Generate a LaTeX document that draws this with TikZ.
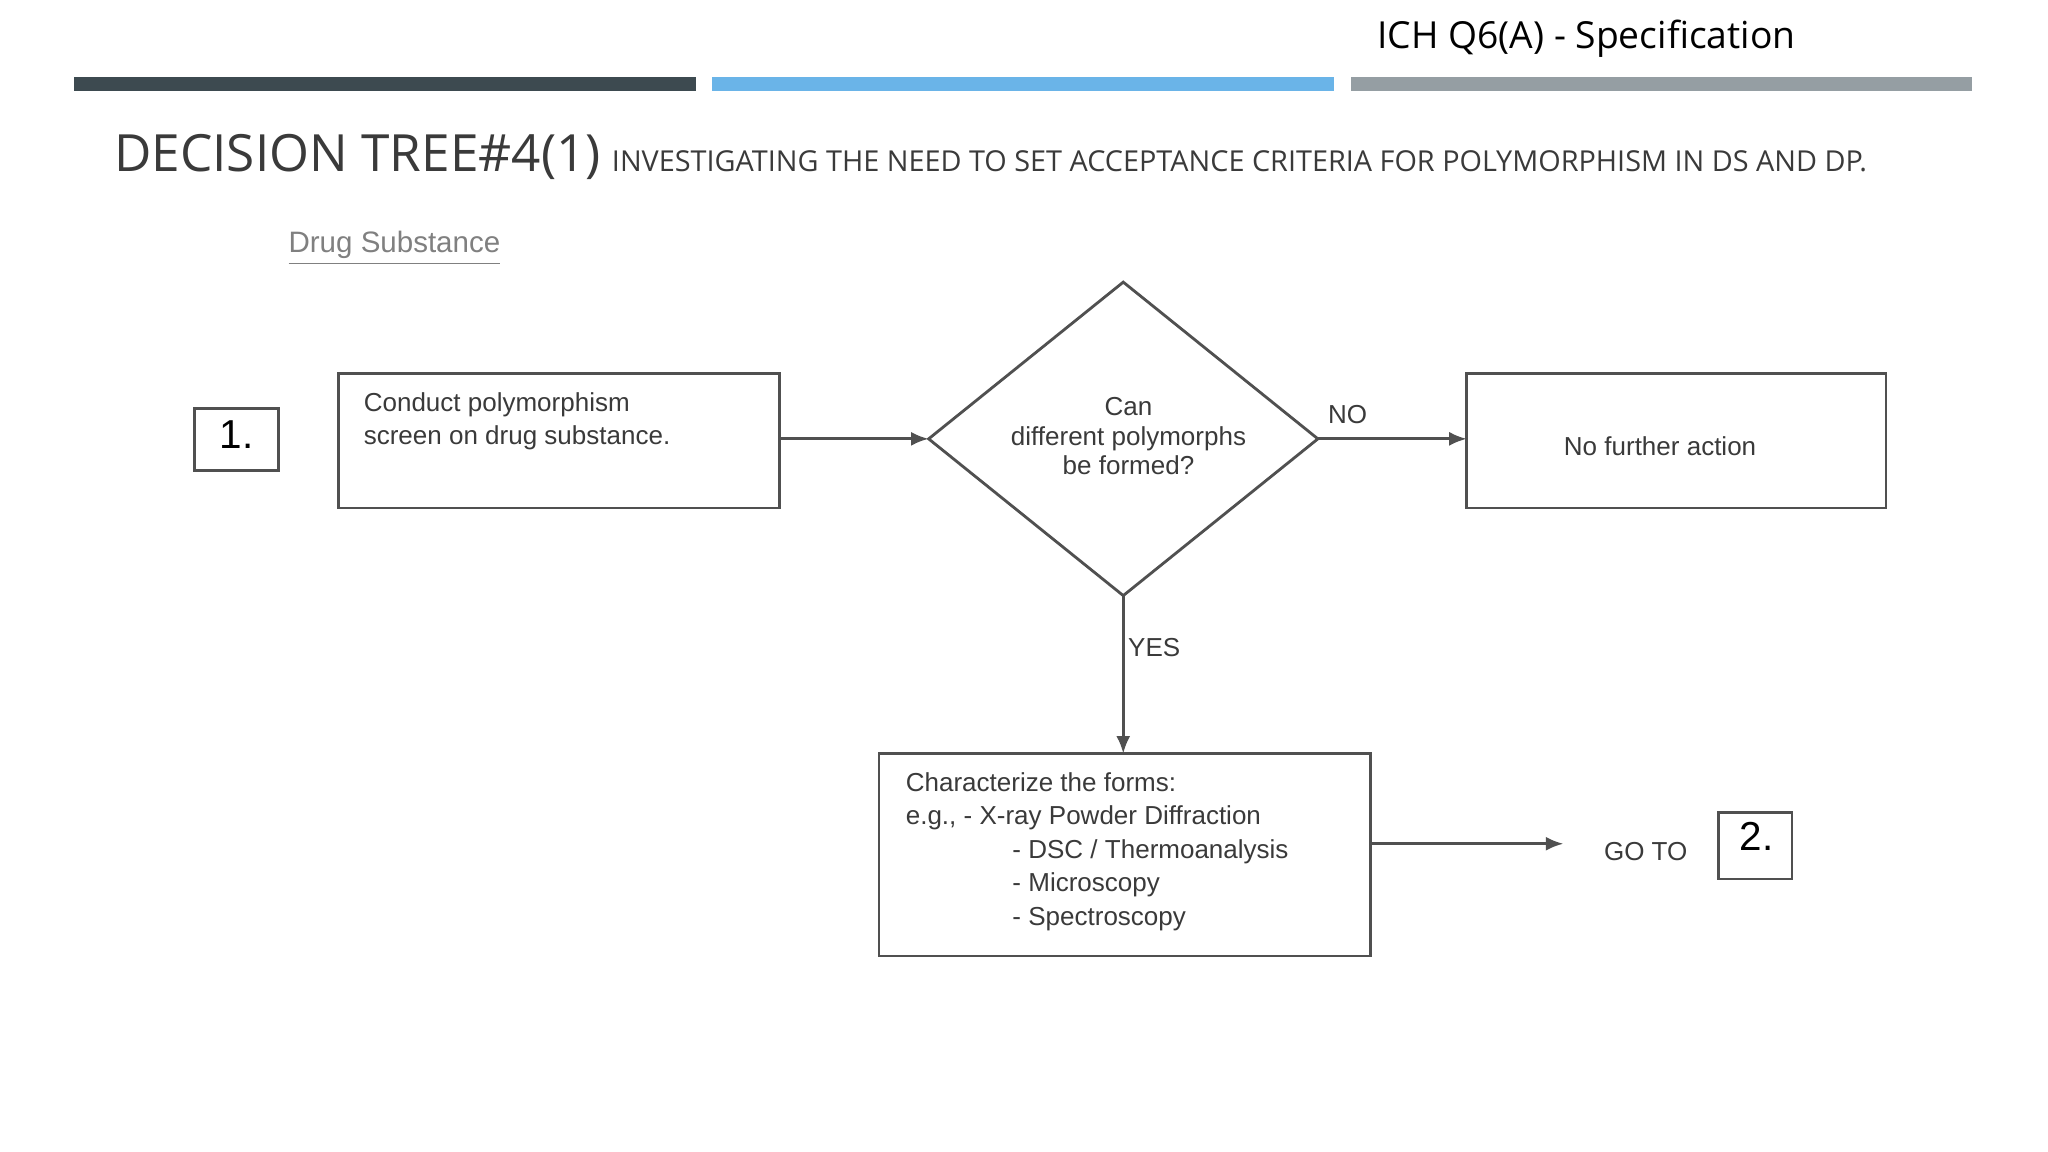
\documentclass[tikz,border=0pt]{standalone}
\usepackage{fontspec}
\setmainfont{Liberation Sans}
\newfontfamily\titlefont{Open Sans}
\usetikzlibrary{arrows.meta}
\definecolor{lineg}{HTML}{505050}
\definecolor{txtg}{HTML}{3A3A3A}
\definecolor{bardark}{HTML}{3D4A50}
\definecolor{barblue}{HTML}{6AB4E8}
\definecolor{bargray}{HTML}{959EA3}
\begin{document}
\begin{tikzpicture}[x=0.013061cm,y=-0.013061cm,
  box/.style={draw=lineg,line width=0.8pt},
  conn/.style={draw=lineg,line width=0.8pt,-{Latex[length=5pt,width=4pt]}},
  dtxt/.style={font=\fontsize{7.4}{9.4}\selectfont,text=txtg,inner sep=0pt}]
\useasboundingbox (0,0) rectangle (1568,882);
\fill[white] (0,0) rectangle (1568,882);
\node[anchor=west,font=\titlefont\fontsize{10.6}{12}\selectfont,text=black] (hdr) at (1045,30) {ICH Q6(A) - Specification};
\fill[bardark] (57,59) rectangle (533,70);
\fill[barblue] (545,59) rectangle (1021,70);
\fill[bargray] (1034,59) rectangle (1510,70);
\node[anchor=base west,inner sep=0pt,font=\titlefont\fontsize{14.6}{16}\selectfont,text=txtg] (ttl) at (87,131) {DECISION TREE\#4(1)};
\node[anchor=base west,inner sep=0pt,font=\titlefont\fontsize{8.2}{10}\selectfont,text=txtg] (sub) at (468,131) {INVESTIGATING THE NEED TO SET ACCEPTANCE CRITERIA FOR POLYMORPHISM IN DS AND DP.};
\node[dtxt,font=\fontsize{8.4}{10}\selectfont,text=gray] (ds) at (302,190) {\underline{Drug Substance}};
% nodes
\draw[box] (149,313) rectangle (213,360);
\node[dtxt,font=\fontsize{11.5}{12}\selectfont,text=black] (n1) at (181,333) {1.};
\draw[box] (259,286) rectangle (597,389);
\coordinate (aR) at (597,336);
\node[dtxt,anchor=north west,align=left] (a) at (278,300) {Conduct polymorphism\\screen on drug substance.};
\draw[box] (860,216) -- (1009,336) -- (860,456) -- (711,336) -- cycle;
\coordinate (dL) at (711,336); \coordinate (dR) at (1009,336); \coordinate (dB) at (860,456);
\node[dtxt,align=center,font=\fontsize{7.4}{8.4}\selectfont] (dq) at (864,334) {Can\\different polymorphs\\be formed?};
\draw[box] (1123,286) rectangle (1444,389);
\coordinate (nL) at (1123,336);
\node[dtxt] (na) at (1271,342) {No further action};
\draw[box] (673,577) rectangle (1049,732);
\coordinate (cT) at (860,577); \coordinate (cR) at (1049,646);
\node[dtxt,anchor=north west,align=left,font=\fontsize{7.4}{9.5}\selectfont] (c) at (693,591)
 {Characterize the forms:\\e.g., - X-ray Powder Diffraction\\\hspace*{4.1em}- DSC / Thermoanalysis\\\hspace*{4.1em}- Microscopy\\\hspace*{4.1em}- Spectroscopy};
\coordinate (gA) at (1197,646);
\node[dtxt] (go) at (1260,652) {GO TO};
\draw[box] (1316,622) rectangle (1372,673);
\node[dtxt,font=\fontsize{11.5}{12}\selectfont,text=black] (n2) at (1345,640) {2.};
% connectors
\draw[conn] (aR) -- (dL);
\draw[conn] (dR) -- node[pos=0.2,above=4pt,dtxt]{NO} (nL);
\draw[conn] (dB) -- node[pos=0.33,right=1pt,dtxt]{YES} (cT);
\draw[conn] (cR) -- (gA);
\end{tikzpicture}
\end{document}
